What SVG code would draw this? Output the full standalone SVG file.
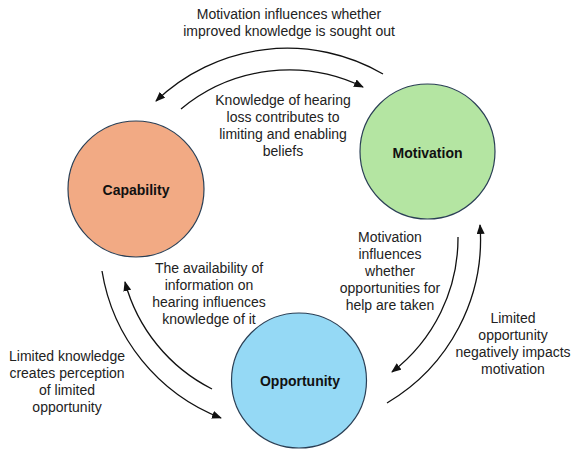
<svg xmlns="http://www.w3.org/2000/svg" width="582" height="449" viewBox="0 0 582 449">
<defs>
<marker id="ah" markerWidth="10" markerHeight="8" refX="9" refY="4" orient="auto" markerUnits="userSpaceOnUse">
<path d="M0,0 L10,4 L0,8 Z" fill="#111"/>
</marker>
<style>
.node{stroke:#2a3f55;stroke-width:1.2}
.lbl{font-family:"Liberation Sans",Arial,sans-serif;font-size:14px;fill:#222;text-anchor:middle}
.ttl{font-family:"Liberation Sans",Arial,sans-serif;font-size:14px;font-weight:bold;fill:#111;text-anchor:middle}
.con{fill:none;stroke:#111;stroke-width:1.3;marker-end:url(#ah)}
</style>
</defs>
<rect width="582" height="449" fill="#fff"/>
<g id="connectors">
<path class="con" d="M383,74 A190,190 0 0 0 156,101"/>
<path class="con" d="M181,109 A169,169 0 0 1 363,87"/>
<path class="con" d="M102,271 A190,190 0 0 0 221,418"/>
<path class="con" d="M212,389 A169,169 0 0 1 125,282"/>
<path class="con" d="M458,237 A169,169 0 0 1 392,372"/>
<path class="con" d="M387,403 A190,190 0 0 0 480,225"/>
</g>
<g id="capability">
<circle class="node" cx="136" cy="189" r="68" fill="#f2aa84"/>
<text class="ttl" x="136" y="195">Capability</text>
</g>
<g id="motivation">
<circle class="node" cx="427.5" cy="151.5" r="67.5" fill="#b4e5a2"/>
<text class="ttl" x="427.5" y="158">Motivation</text>
</g>
<g id="opportunity">
<circle class="node" cx="299" cy="380.5" r="67.5" fill="#95d9f5"/>
<text class="ttl" x="300" y="386">Opportunity</text>
</g>
<g id="labels">
<text class="lbl" x="289" y="19">Motivation influences whether</text>
<text class="lbl" x="289" y="36">improved knowledge is sought out</text>
<text class="lbl" x="283" y="105">Knowledge of hearing</text>
<text class="lbl" x="283" y="122">loss contributes to</text>
<text class="lbl" x="283" y="139">limiting and enabling</text>
<text class="lbl" x="283" y="156">beliefs</text>
<text class="lbl" x="390" y="242">Motivation</text>
<text class="lbl" x="390" y="259">influences</text>
<text class="lbl" x="390" y="276">whether</text>
<text class="lbl" x="390" y="293">opportunities for</text>
<text class="lbl" x="390" y="310">help are taken</text>
<text class="lbl" x="513" y="323">Limited</text>
<text class="lbl" x="513" y="340">opportunity</text>
<text class="lbl" x="513" y="357">negatively impacts</text>
<text class="lbl" x="513" y="374">motivation</text>
<text class="lbl" x="209" y="273">The availability of</text>
<text class="lbl" x="209" y="290">information on</text>
<text class="lbl" x="209" y="307">hearing influences</text>
<text class="lbl" x="209" y="324">knowledge of it</text>
<text class="lbl" x="67" y="361">Limited knowledge</text>
<text class="lbl" x="67" y="378">creates perception</text>
<text class="lbl" x="67" y="395">of limited</text>
<text class="lbl" x="67" y="412">opportunity</text>
</g>
</svg>
